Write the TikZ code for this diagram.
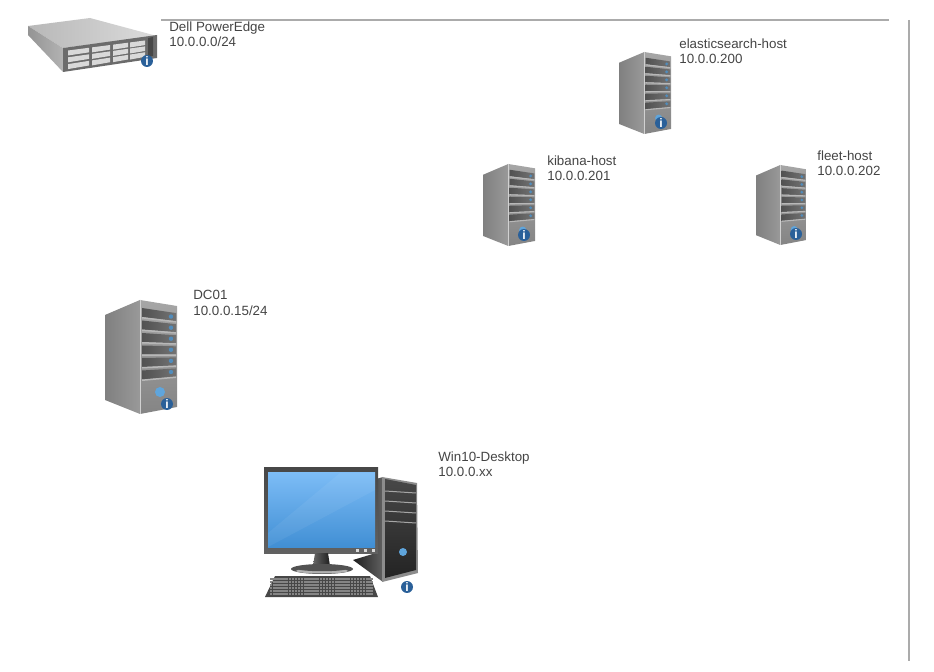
\documentclass[tikz,border=0pt]{standalone}
\usepackage{fontspec}
\setmainfont{Liberation Sans}
\definecolor{textgray}{HTML}{444444}
\definecolor{borderline}{HTML}{ABABAB}
\definecolor{infoblue}{HTML}{2A6099}
\definecolor{lightblue}{HTML}{5FA5DC}
\definecolor{screentop}{HTML}{7CBCF6}
\definecolor{screenbottom}{HTML}{418FD4}
\tikzset{
    hostlabel/.style={anchor=north west,inner sep=0pt,align=left,text=textgray,font=\fontsize{7.6pt}{8.8pt}\selectfont},
    infoicon/.style={circle,fill=infoblue,text=white,inner sep=0pt,minimum size=0.24cm,font=\fontsize{7pt}{7pt}\selectfont\bfseries},
    borderstroke/.style={draw=borderline,line width=0.04cm}
}
\begin{document}
\begin{tikzpicture}[x=0.02cm,y=-0.02cm]
        \useasboundingbox (0,0) rectangle (934,672);

        % frame lines
        \coordinate (topstart) at (161,20.5);
        \coordinate (topend) at (889,20.5);
        \coordinate (sidestart) at (909,20);
        \coordinate (sideend) at (909,661);
        \draw [borderstroke] (topstart) -- (topend);
        \draw [borderstroke] (sidestart) -- (sideend);

        % rack server
        \shade [left color=black!28,right color=black!14] (28,26) -- (90,18) -- (157,36) -- (63,48) -- cycle;
        \shade [left color=black!42,right color=black!30] (28,26) -- (63,48) -- (63,72) -- (28,35) -- cycle;
        \fill [black!58] (63,48) -- (157,35) -- (157,58) -- (63,72) -- cycle;
        \foreach \xa\xb in {68/89,92/110,113/128,130/145} {
                \foreach \j in {0,1,2} {
                        \def\ya{50.5+\j*(6.8-0.012*(\xa-68))-0.13*(\xa-68)}
                        \def\yb{50.5+\j*(6.8-0.012*(\xb-68))-0.13*(\xb-68)}
                        \fill [black!15] (\xa,{\ya}) -- (\xb,{\yb}) -- (\xb,{\yb+4.6}) -- (\xa,{\ya+5}) -- cycle;
                    }
            }
        \fill [black!72] (148,38) -- (153,37) -- (153,56) -- (148,57) -- cycle;
        \node [infoicon] (infodell) at (147,61) {i};
        \node [hostlabel] (labeldell) at (169,21.5) {Dell PowerEdge\\10.0.0.0/24};

        % tower servers
        \foreach \name\tx\ty\tw\th\ix\iy\lx\ly\host\addr in{
                dc/105/300/72/114/167/404/193/290/DC01/10.0.0.15\slash 24,
                elastic/619/52/52/82/661/123/679/38/elasticsearch-host/10.0.0.200,
                kibana/483/164/52/82/524/235/547/155/kibana-host/10.0.0.201,
                fleet/756/165/50/80/796/234/817/150/fleet-host/10.0.0.202} {
                \begin{scope}[shift={(\tx,\ty)},xscale=\tw/72,yscale=\th/114]
                    \shade [left color=black!50,right color=black!40] (0,15) -- (35,0) -- (35,114) -- (0,100) -- cycle;
                    \shade [top color=black!35,bottom color=black!48] (35,0) -- (72,6) -- (72,107) -- (35,114) -- cycle;
                    \draw [black!18,line width=0.015cm] (35,0) -- (35,114);

                    \foreach \b in{8,20.5,33,45.5,58,70.5} {
                            \shade [left color=black!68,right color=black!55] (37,\b) -- (71,6+\b*0.886) -- (71,14+\b*0.886) -- (37,\b+9) -- cycle;
                            \fill [black!28] (37,\b+9) -- (71,14+\b*0.886) -- (71,15.5+\b*0.886) -- (37,\b+10.5) -- cycle;
                            \fill [lightblue!85!black] (66,9.5+\b*0.886) circle (2.2);
                        }

                    \fill [lightblue] (55,92) circle (5);
                \end{scope}
                \node [infoicon] (info\name) at (\ix,\iy) {i};
                \node [hostlabel] (label\name) at (\lx,\ly) {\host\\\addr};
            }

        % desktop tower
        \shade [left color=black!88,right color=black!62] (353,560) -- (383,582) -- (383,477) -- (376,479) -- (376,553) -- cycle;
        \fill [black!45] (382,477) -- (417,483) -- (418,573) -- (382,582) -- cycle;
        \shade [top color=black!72,bottom color=black!86] (385,479) -- (416,485) -- (416,570) -- (385,578) -- cycle;
        \foreach \y in {491,501,511,521} {
                \draw [black!35,line width=0.02cm] (385,\y) -- (416,\y+2);
            }
        \fill [lightblue] (403,552) circle (4);

        % monitor
        \shade [top color=black!72,bottom color=black!62] (264,468) rectangle (378,553);
        \shade [top color=screentop,bottom color=screenbottom] (268,473) rectangle (375,547);
        \fill [white,opacity=0.06] (340,473) -- (375,473) -- (375,490) -- (268,547) -- (268,533) -- cycle;
        \foreach \x in {357,365,373} {
                \fill [white!85!black] (\x-1.5,549) rectangle (\x+1.5,552);
            }
        \shade [left color=black!60,right color=black!88] (315,553) -- (328,553) -- (330,566) -- (313,566) -- cycle;
        \fill [black!68] (322,569) ellipse (31 and 5);
        \fill [black!30] (322,571) ellipse (26 and 2.5);
        \fill [black!68] (322,569) ellipse (24 and 2.2);

        % keyboard
        \fill [black!72] (275,576) -- (370,576) -- (378,597) -- (265,597) -- cycle;
        \foreach \y in {579,582,585,588,591,594} {
                \draw [black!48,line width=0.025cm,dash pattern=on 0.05cm off 0.012cm] (268+579/\y*2,\y) -- (375-579/\y*2,\y);
            }

        \node [infoicon] (infodesktop) at (407,587) {i};
        \node [hostlabel] (labeldesktop) at (438,451.5) {Win10-Desktop\\10.0.0.xx};
    \end{tikzpicture}
\end{document}
